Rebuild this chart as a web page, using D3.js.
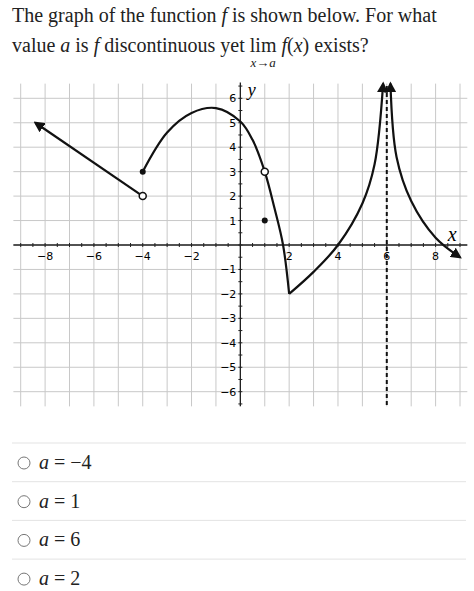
<!DOCTYPE html><html><head><meta charset="utf-8"><script src="https://cdn.jsdelivr.net/npm/d3@7"></script>
<style>body{margin:0;background:#fff}</style></head><body><svg id="c" width="474" height="591"></svg><script>
const xTicks=[-8,-6,-4,-2,2,4,6,8];
const yTicks=[-6,-5,-4,-3,-2,-1,1,2,3,4,5,6];
const lineSeg=[[-8.4,5],[-4,2]];
const midCurve=[[-4,3],[-3,4.6],[-2,5.4],[-1,5.6],[0,5.05],[0.5,4.3],[1,3],[1.4,1.5],[1.75,0],[2,-2]];
const leftBranch=[[2,-2],[3,-1.1],[4,0],[5,1.7],[5.5,3.3],[5.85,6.6]];
const rightBranch=[[6.15,6.6],[6.4,3.6],[7,1.8],[8,0.3],[9,-0.5]];
const openPts=[[-4,2],[1,3]];
const filledPts=[[-4,3],[1,1]];
const options=["−4","1","6","2"];
const svg=d3.select("#c");
const x=d3.scaleLinear().domain([-9,9]).range([20.7,460]);
const y=d3.scaleLinear().domain([6,-6]).range([98.3,391.7]);
const g=svg.append("g");
d3.range(-9,10).forEach(v=>g.append("line").attr("x1",x(v)).attr("x2",x(v)).attr("y1",y(6.6)).attr("y2",y(-6.6)).attr("stroke","#c8c8c8"));
d3.range(-6,7).forEach(v=>g.append("line").attr("y1",y(v)).attr("y2",y(v)).attr("x1",x(-9.3)).attr("x2",x(9.3)).attr("stroke","#c8c8c8"));
g.append("line").attr("x1",x(-9.3)).attr("x2",x(9.3)).attr("y1",y(0)).attr("y2",y(0)).attr("stroke","#222").attr("stroke-width",1.3);
g.append("line").attr("x1",x(0)).attr("x2",x(0)).attr("y1",y(6.65)).attr("y2",y(-6.6)).attr("stroke","#222").attr("stroke-width",1.3);
d3.range(-9,9.01,0.5).forEach(v=>g.append("line").attr("x1",x(v)).attr("x2",x(v)).attr("y1",y(0)-2).attr("y2",y(0)+2).attr("stroke","#222"));
d3.range(-6.5,6.51,0.5).forEach(v=>g.append("line").attr("y1",y(v)).attr("y2",y(v)).attr("x1",x(0)-2).attr("x2",x(0)+2).attr("stroke","#222"));
xTicks.forEach(v=>g.append("text").attr("x",x(v)).attr("y",y(0)+15).attr("text-anchor","middle").attr("font-family","DejaVu Sans").attr("font-size",11).text(v<0?"−"+(-v):v));
yTicks.forEach(v=>g.append("text").attr("x",x(0)-4).attr("y",y(v)+4).attr("text-anchor","end").attr("font-family","DejaVu Sans").attr("font-size",11).text(v<0?"−"+(-v):v));
g.append("text").attr("x",x(0.3)).attr("y",y(6.1)).attr("font-family","Liberation Serif").attr("font-style","italic").attr("font-size",18).text("y");
g.append("text").attr("x",x(8.5)).attr("y",y(0.15)).attr("font-family","Liberation Serif").attr("font-style","italic").attr("font-size",20).text("x");
g.append("line").attr("x1",x(6)).attr("x2",x(6)).attr("y1",y(6.5)).attr("y2",y(-6.6)).attr("stroke","#111").attr("stroke-width",2).attr("stroke-dasharray","4,3");
const defs=svg.append("defs");
defs.append("marker").attr("id","ar").attr("viewBox","0 0 10 10").attr("refX",8).attr("refY",5).attr("markerWidth",5).attr("markerHeight",5).attr("orient","auto-start-reverse").append("path").attr("d","M0,0L10,5L0,10z").attr("fill","#111");
const ln=d3.line().x(d=>x(d[0])).y(d=>y(d[1]));
const cv=d3.line().x(d=>x(d[0])).y(d=>y(d[1])).curve(d3.curveCatmullRom);
const st=p=>p.attr("fill","none").attr("stroke","#111").attr("stroke-width",2.2);
st(g.append("path").attr("d",ln(lineSeg)).attr("marker-start","url(#ar)"));
st(g.append("path").attr("d",cv(midCurve)));
st(g.append("path").attr("d",cv(leftBranch)).attr("marker-end","url(#ar)"));
st(g.append("path").attr("d",cv(rightBranch)).attr("marker-start","url(#ar)").attr("marker-end","url(#ar)"));
openPts.forEach(p=>g.append("circle").attr("cx",x(p[0])).attr("cy",y(p[1])).attr("r",3.5).attr("fill","#fff").attr("stroke","#111").attr("stroke-width",1.5));
filledPts.forEach(p=>g.append("circle").attr("cx",x(p[0])).attr("cy",y(p[1])).attr("r",3).attr("fill","#111"));
const T=svg.append("g").attr("font-family","Liberation Serif").attr("font-size",20).attr("fill","#222");
const t1=T.append("text").attr("x",12).attr("y",22);
t1.append("tspan").text("The graph of the function ");t1.append("tspan").attr("font-style","italic").text("f");t1.append("tspan").text(" is shown below. For what");
const t2=T.append("text").attr("x",12).attr("y",52);
t2.append("tspan").text("value ");t2.append("tspan").attr("font-style","italic").text("a");t2.append("tspan").text(" is ");t2.append("tspan").attr("font-style","italic").text("f");t2.append("tspan").text(" discontinuous yet ");
const lim=t2.append("tspan").text("lim");
t2.append("tspan").text(" ");t2.append("tspan").attr("font-style","italic").text("f");t2.append("tspan").text("(");t2.append("tspan").attr("font-style","italic").text("x");t2.append("tspan").text(") exists?");
const bb=lim.node().getBBox?null:null;
const n=t2.node();const chars=n.getNumberOfChars();
let full=n.textContent;const idx=full.indexOf("lim");
const s=n.getStartPositionOfChar(idx).x, e=n.getEndPositionOfChar(idx+2).x;
T.append("text").attr("x",(s+e)/2).attr("y",67).attr("text-anchor","middle").attr("font-size",13).attr("font-style","italic").text("x→a");
options.forEach((o,i)=>{const yy=463+i*38.7;
svg.append("line").attr("x1",12).attr("x2",466).attr("y1",yy-20).attr("y2",yy-20).attr("stroke","#e3e3e3");
svg.append("circle").attr("cx",24).attr("cy",yy).attr("r",6).attr("fill","#fff").attr("stroke","#777");
const t=T.append("text").attr("x",39).attr("y",yy+6);
t.append("tspan").attr("font-style","italic").text("a");t.append("tspan").text(" = "+o);});
</script></body></html>
